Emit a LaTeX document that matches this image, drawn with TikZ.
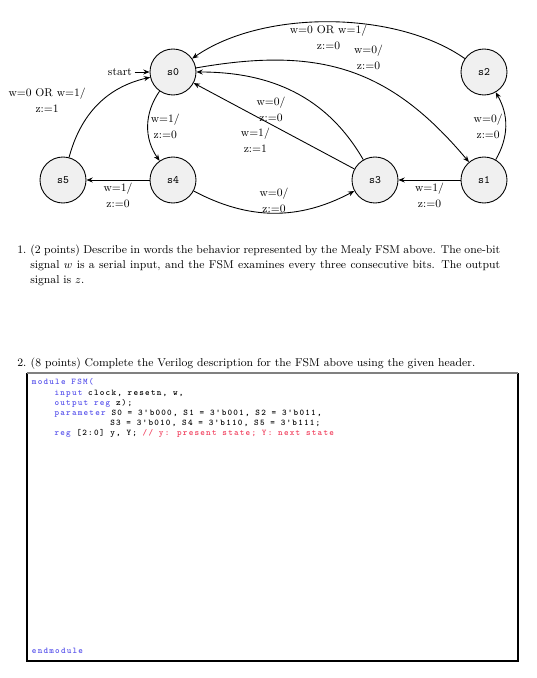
\documentclass[tikz,border=0pt]{standalone}
\usepackage{fontspec}
\usepackage{tikz}
\usetikzlibrary{
	arrows.meta,
	positioning
}
\definecolor{kwblue}{RGB}{85,80,235}
\definecolor{cmtred}{RGB}{240,60,90}
\definecolor{statefill}{gray}{0.94}

\newfontfamily\codefamily{lmmono10-regular.otf}[BoldFont=lmmonolt10-bold.otf, LetterSpace=14]
\newcommand\codefont{\fontsize{7}{8}\selectfont\codefamily\bfseries}
\newcommand\kw[1]{\textcolor{kwblue}{#1}}

\tikzset{
	state/.style={circle, draw, line width=0.7pt, fill=statefill, minimum size=36.8pt, inner sep=0pt, font=\small\ttfamily},
	trans/.style={-{Stealth[length=5pt,width=4pt]}, line width=0.7pt},
	lbl/.style={font=\fontsize{9}{12.8}\selectfont, align=center, inner sep=2pt},
	codeline/.style={anchor=base west, inner sep=0pt, font=\codefont},
	question/.style={anchor=north west, inner sep=0pt, text width=376pt, align=justify, font=\fontsize{9.1}{12}\selectfont},
	qnum/.style={anchor=base west, inner sep=0pt, font=\fontsize{9.1}{12}\selectfont}
}

\begin{document}
\begin{tikzpicture}[x=0.8pt, y=0.8pt]
\useasboundingbox (0,0) rectangle (537,678);

% States of the Mealy FSM
\node[state] (s0) at (173,606) {s0};
\node[state] (s2) at (484,606) {s2};
\node[state] (s5) at (63,498) {s5};
\node[state] (s4) at (173,498) {s4};
\node[state] (s3) at (375,498) {s3};
\node[state] (s1) at (484,498) {s1};
\node[lbl, left=12pt of s0] (start) {start};

% Transitions (input/output)
\draw[trans] (start) -- (s0);
\draw[trans] (s0) to[bend right=35] node[lbl, right] {w=1/\\z:=0} (s4);
\draw[trans] (s4) -- node[lbl, below] {w=1/\\z:=0} (s5);
\draw[trans] (s5) to[out=75, in=193] node[lbl, pos=0.38, anchor=south east] {w=0 OR w=1/\\z:=1} (s0);
\draw[trans] (s4) to[bend right=28] node[lbl, above, inner sep=0pt] {w=0/\\z:=0} (s3);
\draw[trans] (s1) -- node[lbl, below] {w=1/\\z:=0} (s3);
\draw[trans] (s1) to[bend right=30] node[lbl, left] {w=0/\\z:=0} (s2);
\draw[trans] (s2) to[bend right=35, looseness=0.8] node[lbl, below] {w=0 OR w=1/\\z:=0} (s0);
\draw[trans] (s0) to[out=10, in=130, looseness=1.1] node[lbl, pos=0.52, anchor=south west, inner sep=0pt, yshift=2pt] {w=0/\\z:=0} (s1);
\draw[trans] (s3) to[out=120, in=0] node[lbl, pos=0.63, below=9pt] {w=0/\\z:=0} (s0);
\draw[trans] (s3) -- node[lbl, below left, inner sep=1pt, xshift=-2pt] {w=1/\\z:=1} (s0);

% Questions
\node[question] (q1) at (30,433.5) {(2 points) Describe in words the behavior represented by the Mealy FSM above. The one-bit\linebreak signal $w$ is a serial input, and the FSM examines every three consecutive bits. The output\linebreak signal is $z$.};
\node[qnum] (n1) at (17,0 |- q1.north) [yshift=-7pt] {1.};
\node[qnum] (n2) at (17,311) {2.};
\node[qnum, right=0pt of n2.base east, anchor=base west, xshift=3.1pt] (q2) {(8 points) Complete the Verilog description for the FSM above using the given header.};

% Code box with the given header
\draw[line width=0.9pt] (27,305) -- (27,17) -- (518,17) -- (518,305);
\draw[line width=0.9pt, gray] (27,305) -- (518,305);
\node[codeline] (c1) at (31.7,293) {\kw{module FSM(}};
\node[codeline] (c2) at (54.3,282.5) {\kw{input} clock, resetn, w,};
\node[codeline] (c3) at (54.3,272.5) {\kw{output reg} z);};
\node[codeline] (c4) at (54.3,262.5) {\kw{parameter} S0 = 3'b000, S1 = 3'b001, S2 = 3'b011,};
\node[codeline] (c5) at (110,252.5) {S3 = 3'b010, S4 = 3'b110, S5 = 3'b111;};
\node[codeline] (c6) at (54.3,242) {\kw{reg} [2:0] y, Y; \textcolor{cmtred}{// y: present state; Y: next state}};
\node[codeline] (c7) at (31.7,24) {\kw{endmodule}};

\end{tikzpicture}
\end{document}
